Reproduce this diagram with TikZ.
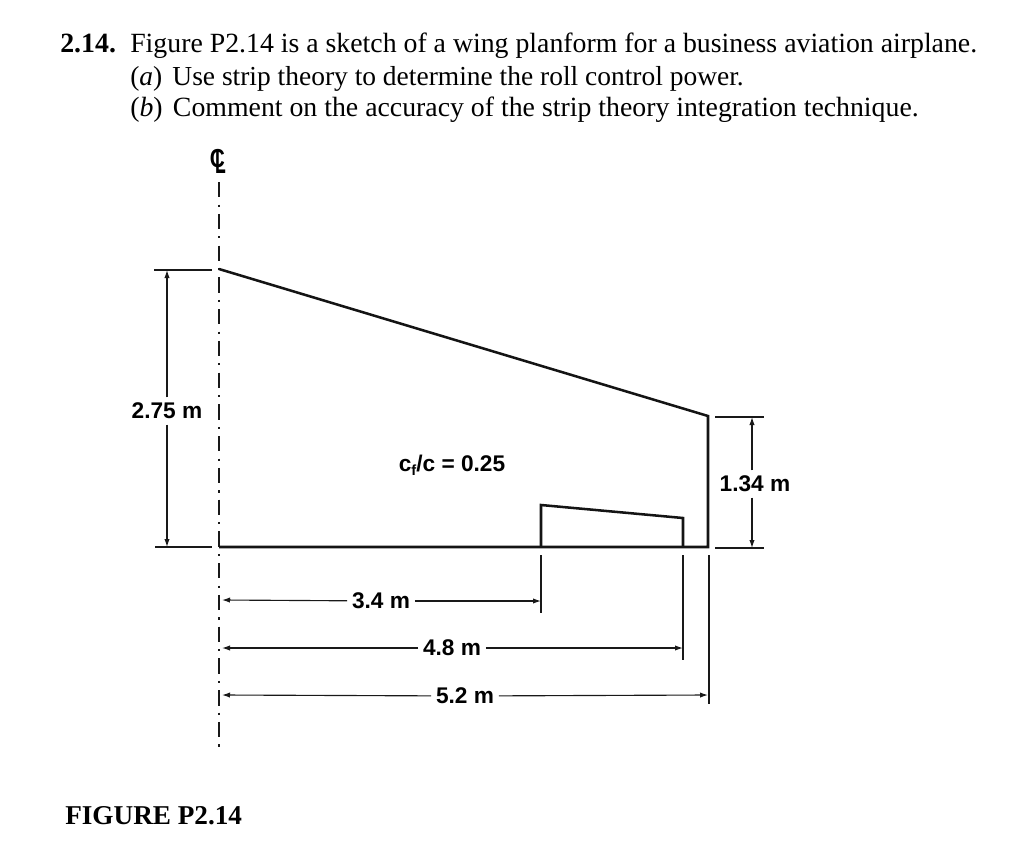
\documentclass[tikz,border=0pt]{standalone}
\usepackage{fontspec}
\setmainfont{Liberation Serif}
\setsansfont{Liberation Sans}
\usetikzlibrary{arrows.meta}
\tikzset{
  body/.style={anchor=base west,inner sep=0pt,font=\fontsize{20.85pt}{25pt}\selectfont},
  dimlabel/.style={inner xsep=3.5pt,inner ysep=4pt,font=\sffamily\fontsize{17pt}{20pt}\selectfont\bfseries},
  wing/.style={line width=1.9pt,line join=miter,black!92},
  thinline/.style={line width=0.85pt,black!90},
  dimline/.style={line width=0.85pt,black!90,-{Latex[length=6pt,width=4pt]}},
  centerline/.style={line width=1.3pt,black!90,dash pattern=on 11.5pt off 5.4pt on 1.6pt off 5.32pt},
}
\begin{document}
\begin{tikzpicture}[x=0.75pt,y=-0.75pt]
\useasboundingbox (0,0) rectangle (1024,843);
% text
\node[body,font=\fontsize{20.9pt}{25pt}\selectfont\bfseries] (t0) at (60,52) {2.14.};
\node[body] (t1) at (130,52) {Figure P2.14 is a sketch of a wing planform for a business aviation airplane.};
\node[body,font=\fontsize{20.6pt}{25pt}\selectfont] (t2) at (130,85) {(\textit{a})\hspace{0.12em} Use strip theory to determine the roll control power.};
\node[body] (t3) at (130,116) {(\textit{b})\hspace{0.12em} Comment on the accuracy of the strip theory integration technique.};
\node[body,font=\fontsize{20.4pt}{24pt}\selectfont\bfseries] (fig) at (65,824) {FIGURE P2.14};
% centreline symbol
\node[anchor=base west,inner sep=0pt,font=\sffamily\bfseries] (cls) at (209.5,173) {\makebox[0pt][l]{\raisebox{4.5pt}{\fontsize{19.5pt}{20pt}\selectfont\scalebox{0.8}[1]{C}}}\hspace{4pt}{\fontsize{24pt}{24pt}\selectfont\scalebox{0.55}[1]{L}}};
% centreline
\coordinate (cla) at (219,182);
\coordinate (clb) at (219,747);
\draw[centerline] (cla) -- (clb);
% wing
\coordinate (le) at (219,269);
\coordinate (tip) at (708,416);
\coordinate (te) at (708,547);
\coordinate (root) at (219,547);
\draw[wing] (le) -- (tip) -- (te) -- (root);
% flap
\coordinate (fa) at (541,547);
\coordinate (fb) at (541,505);
\coordinate (fc) at (683,518);
\coordinate (fd) at (683,547);
\draw[wing] (fa) -- (fb) -- (fc) -- (fd);
\node[dimlabel,font=\sffamily\bfseries\fontsize{17pt}{20pt}\selectfont] (ratio) at (452,465) {c\raisebox{-3pt}{\fontsize{11pt}{11pt}\selectfont f}/c = 0.25};
% 2.75 dimension
\coordinate (e1a) at (154,270);
\coordinate (e1b) at (212,270);
\coordinate (e2a) at (155,547);
\coordinate (e2b) at (212,547);
\draw[thinline] (e1a) -- (e1b);
\draw[thinline] (e2a) -- (e2b);
\node[dimlabel] (d275) at (167,411) {2.75 m};
\coordinate (a1) at (167,270);
\coordinate (a2) at (167,547);
\draw[dimline] (d275) -- (a1);
\draw[dimline] (d275) -- (a2);
% 1.34 dimension
\coordinate (e3a) at (715,417);
\coordinate (e3b) at (764,417);
\coordinate (e4a) at (715,548);
\coordinate (e4b) at (764,548);
\draw[thinline] (e3a) -- (e3b);
\draw[thinline] (e4a) -- (e4b);
\node[dimlabel] (d134) at (755,484) {1.34 m};
\coordinate (a3) at (752,417);
\coordinate (a4) at (752,548);
\draw[dimline] (a3 |- d134.north) -- (a3);
\draw[dimline] (a4 |- d134.south) -- (a4);
% witness lines
\coordinate (w1a) at (541,555);
\coordinate (w1b) at (541,613);
\coordinate (w2a) at (683,555);
\coordinate (w2b) at (683,660);
\coordinate (w3a) at (709,555);
\coordinate (w3b) at (709,704);
\draw[thinline] (w1a) -- (w1b);
\draw[thinline] (w2a) -- (w2b);
\draw[thinline] (w3a) -- (w3b);
% span dimensions
\node[dimlabel] (d34) at (381,601) {3.4 m};
\node[dimlabel] (d48) at (452,648) {4.8 m};
\node[dimlabel] (d52) at (465,696) {5.2 m};
\coordinate (l1) at (222,600);
\coordinate (r1) at (541,601);
\coordinate (l2) at (222,648);
\coordinate (r2) at (683,648);
\coordinate (l3) at (222,695);
\coordinate (r3) at (708,695);
\draw[dimline] (d34) -- (l1);
\draw[dimline] (d34) -- (r1);
\draw[dimline] (d48) -- (l2);
\draw[dimline] (d48) -- (r2);
\draw[dimline] (d52) -- (l3);
\draw[dimline] (d52) -- (r3);
\end{tikzpicture}
\end{document}
